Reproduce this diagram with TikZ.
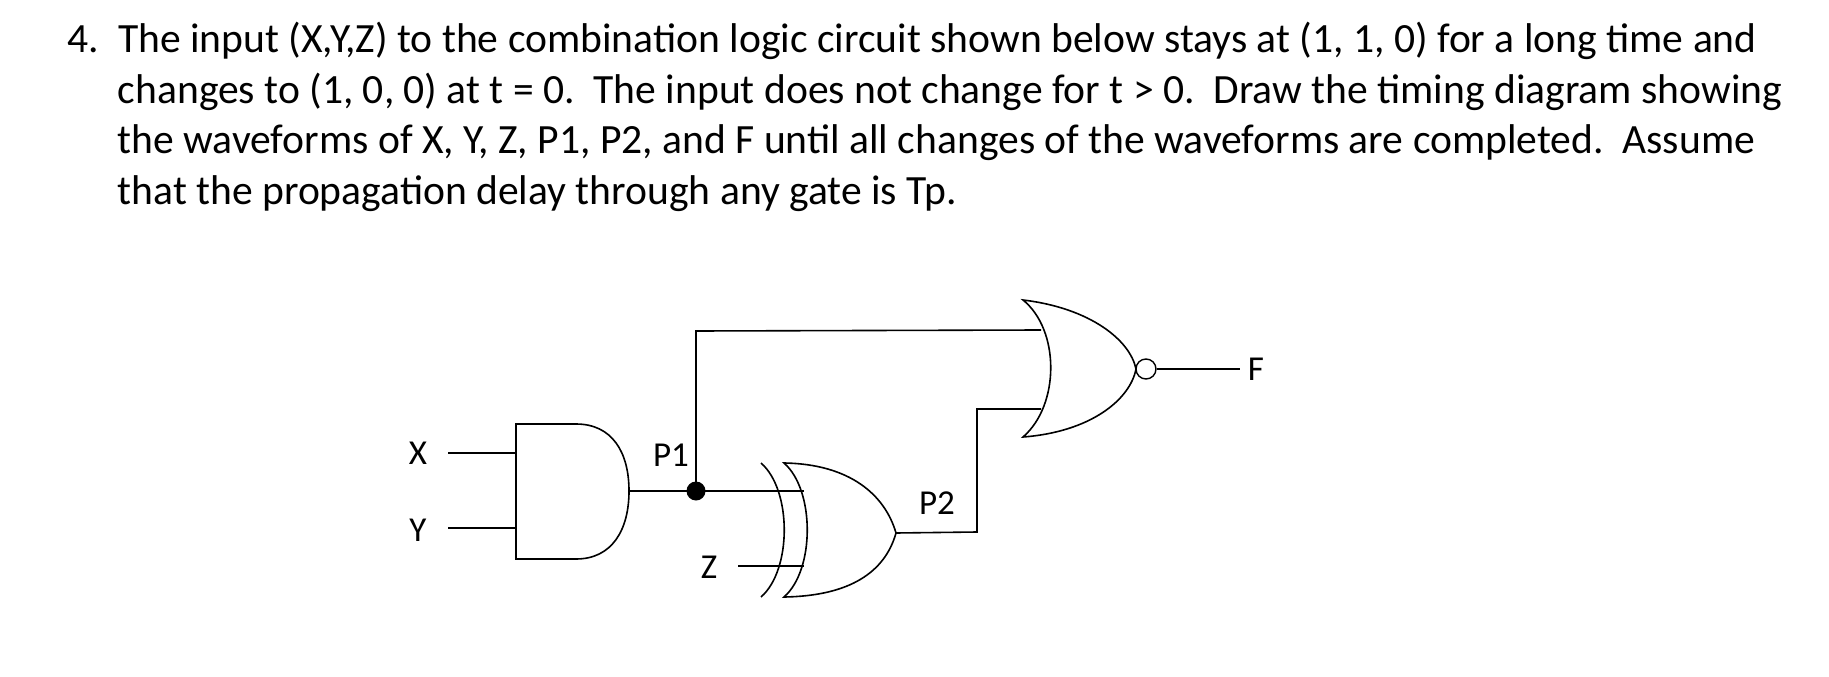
\documentclass[tikz,border=0pt]{standalone}
\usepackage{fontspec}
\setmainfont{Carlito}
\begin{document}
\begin{tikzpicture}[x=1pt,y=-1pt,line width=1.6pt,
  txt/.style={font=\fontsize{41.6}{50}\selectfont,inner sep=0pt,anchor=base west},
  lbl/.style={font=\fontsize{35}{38}\selectfont,inner sep=0pt}]
\useasboundingbox (0,0) rectangle (1829,677);
\node[txt] (l1) at (67,53) {4.\hspace{0.45em}The input (X,Y,Z) to the combination logic circuit shown below stays at (1, 1, 0) for a long time and};
\node[txt] (l2) at (117,103) {changes to (1, 0, 0) at t = 0.\ \ The input does not change for t > 0.\ \ Draw the timing diagram showing};
\node[txt] (l3) at (117,153) {the waveforms of X, Y, Z, P1, P2, and F until all changes of the waveforms are completed.\ \ Assume};
\node[txt] (l4) at (117,204) {that the propagation delay through any gate is Tp.};
% AND gate
\draw (576,424) -- (516,424) -- (516,559) -- (576,559) .. controls (612,559) and (629,530) .. (629,491) .. controls (629,452) and (612,424) .. (576,424) -- cycle;
\coordinate (and) at (629,491);
\coordinate (ax) at (516,453);
\coordinate (ay) at (516,528);
\node[lbl] (X) at (418,453) {X};
\node[lbl] (Y) at (418,530) {Y};
\draw (448,453) -- (ax);
\draw (448,528) -- (ay);
% XOR
\draw (784,463) .. controls (850,464) and (885,495) .. (896,533) .. controls (885,572) and (850,596) .. (784,597) .. controls (815,570) and (815,490) .. (784,463) -- cycle;
\draw (761,463) .. controls (792,490) and (792,570) .. (761,597);
\coordinate (xa) at (804,491);
\coordinate (xb) at (804,566);
\coordinate (xo) at (896,533);
\node[circle,fill,inner sep=0pt,minimum size=19pt] (dot) at (696,491) {};
\node[lbl] (P1) at (671,455) {P1};
\node[lbl] (Z) at (709,567) {Z};
\node[lbl] (P2) at (937,503) {P2};
\draw (and) -- (dot.center) -- (xa);
\draw (738,566) -- (xb);
% NOR
\draw (1023,300) .. controls (1090,308) and (1130,340) .. (1136,369) .. controls (1130,400) and (1090,432) .. (1023,437) .. controls (1060,405) and (1060,330) .. (1023,300) -- cycle;
\node[circle,draw,inner sep=0pt,minimum size=20pt,line width=1.4pt] (bub) at (1146,369) {};
\coordinate (na) at (1041,330);
\coordinate (nb) at (1041,409);
\draw (dot.center) -- (696,331) -- (na);
\draw (xo) -- (977,532) -- (977,409) -- (nb);
\node[lbl] (F) at (1256,369) {F};
\draw (bub.east) -- (1240,369);
\end{tikzpicture}
\end{document}
